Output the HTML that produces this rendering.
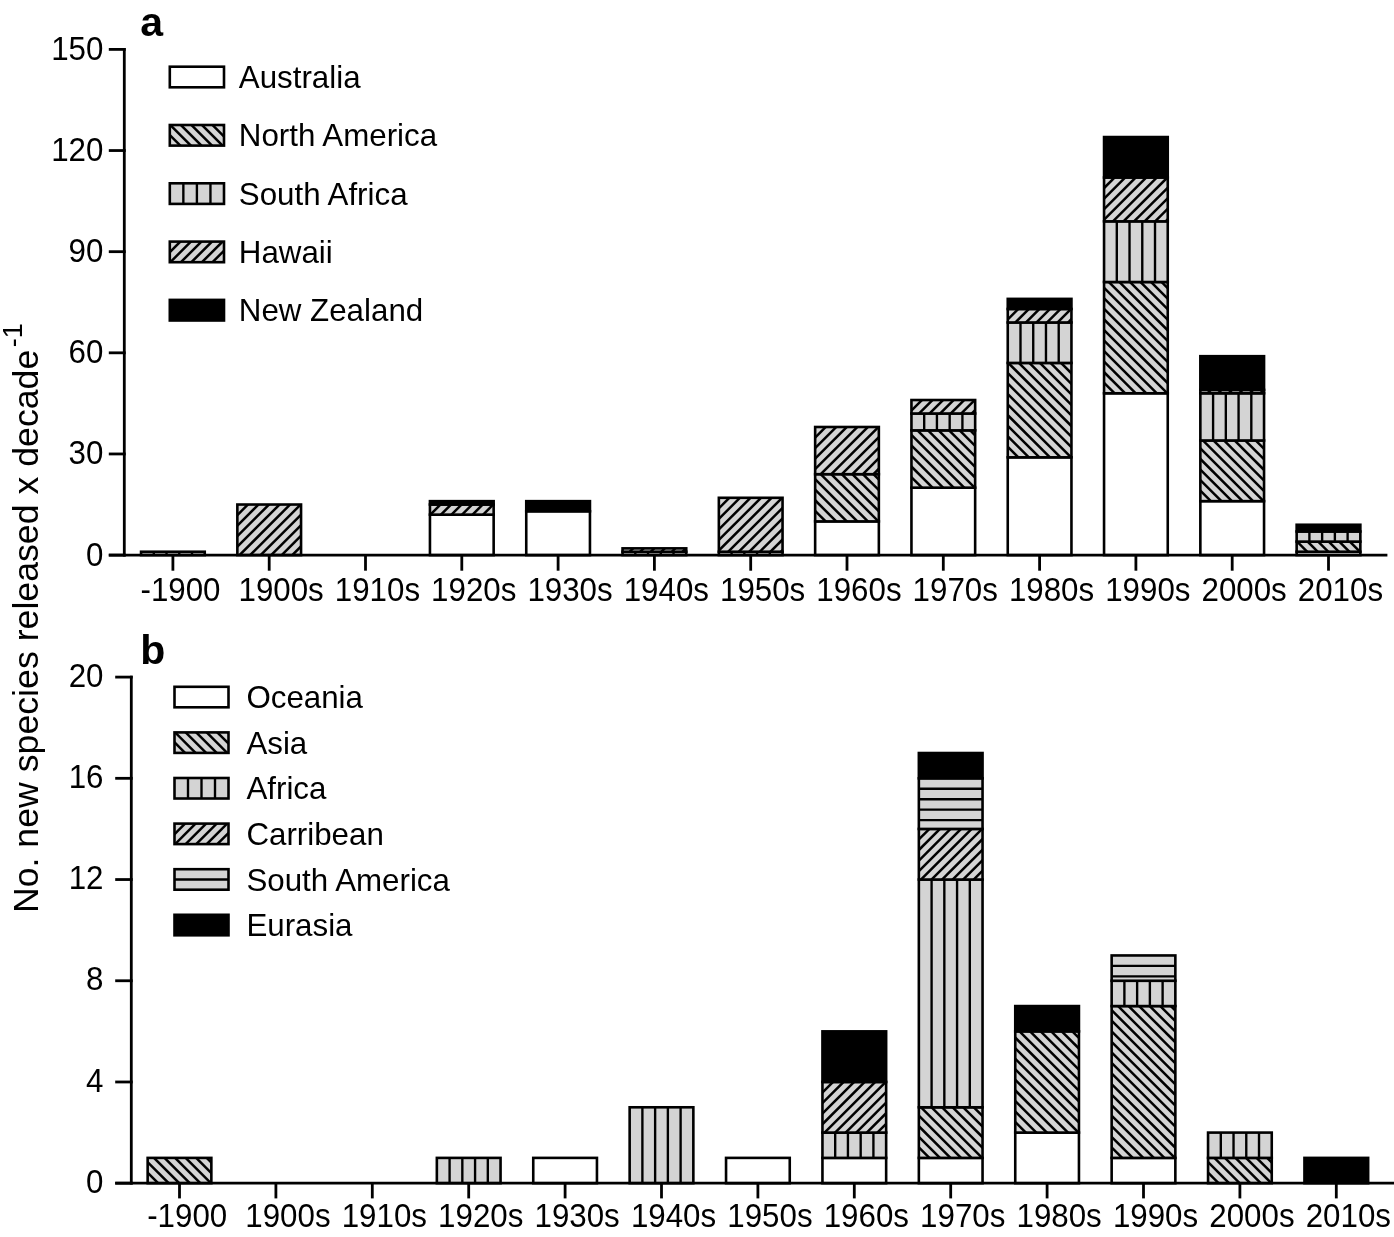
<!DOCTYPE html>
<html><head><meta charset="utf-8"><title>New species released per decade</title>
<style>
html,body{margin:0;padding:0;background:#fff;}
body{width:1394px;height:1237px;overflow:hidden;}
svg{display:block;}
text{font-family:"Liberation Sans",Arial,sans-serif;}
</style></head><body>
<svg width="1394" height="1237" viewBox="0 0 1394 1237" font-family="Liberation Sans, Arial, sans-serif" fill="#000">
<rect x="141.05" y="551.73" width="63.7" height="3.37" fill="#d4d4d4" stroke="none"/>
<line x1="153.79" y1="551.73" x2="153.79" y2="555.1" stroke="#000" stroke-width="2.38" stroke-linecap="butt"/>
<line x1="166.53" y1="551.73" x2="166.53" y2="555.1" stroke="#000" stroke-width="2.38" stroke-linecap="butt"/>
<line x1="179.27" y1="551.73" x2="179.27" y2="555.1" stroke="#000" stroke-width="2.38" stroke-linecap="butt"/>
<line x1="192.01" y1="551.73" x2="192.01" y2="555.1" stroke="#000" stroke-width="2.38" stroke-linecap="butt"/>
<rect x="141.05" y="551.73" width="63.7" height="3.37" fill="none" stroke="#000" stroke-width="2.6"/>
<rect x="237.35" y="504.53" width="63.7" height="50.57" fill="#d4d4d4" stroke="none"/>
<clipPath id="c1"><rect x="237.35" y="504.53" width="63.7" height="50.57"/></clipPath>
<g clip-path="url(#c1)" stroke="#000">
<line x1="234.35" y1="507.53" x2="240.35" y2="501.53" stroke="#000" stroke-width="2.5" stroke-linecap="butt"/>
<line x1="234.35" y1="518.08" x2="250.9" y2="501.53" stroke="#000" stroke-width="2.5" stroke-linecap="butt"/>
<line x1="234.35" y1="528.63" x2="261.45" y2="501.53" stroke="#000" stroke-width="2.5" stroke-linecap="butt"/>
<line x1="234.35" y1="539.18" x2="272" y2="501.53" stroke="#000" stroke-width="2.5" stroke-linecap="butt"/>
<line x1="234.35" y1="549.73" x2="282.55" y2="501.53" stroke="#000" stroke-width="2.5" stroke-linecap="butt"/>
<line x1="236.53" y1="558.1" x2="293.1" y2="501.53" stroke="#000" stroke-width="2.5" stroke-linecap="butt"/>
<line x1="247.08" y1="558.1" x2="303.65" y2="501.53" stroke="#000" stroke-width="2.5" stroke-linecap="butt"/>
<line x1="257.63" y1="558.1" x2="304.05" y2="511.68" stroke="#000" stroke-width="2.5" stroke-linecap="butt"/>
<line x1="268.18" y1="558.1" x2="304.05" y2="522.23" stroke="#000" stroke-width="2.5" stroke-linecap="butt"/>
<line x1="278.73" y1="558.1" x2="304.05" y2="532.78" stroke="#000" stroke-width="2.5" stroke-linecap="butt"/>
<line x1="289.28" y1="558.1" x2="304.05" y2="543.33" stroke="#000" stroke-width="2.5" stroke-linecap="butt"/>
<line x1="299.83" y1="558.1" x2="304.05" y2="553.88" stroke="#000" stroke-width="2.5" stroke-linecap="butt"/>
</g>
<rect x="237.35" y="504.53" width="63.7" height="50.57" fill="none" stroke="#000" stroke-width="2.6"/>
<rect x="429.95" y="514.64" width="63.7" height="40.46" fill="#fff" stroke="none"/>
<rect x="429.95" y="514.64" width="63.7" height="40.46" fill="none" stroke="#000" stroke-width="2.6"/>
<rect x="429.95" y="504.53" width="63.7" height="10.11" fill="#d4d4d4" stroke="none"/>
<clipPath id="c2"><rect x="429.95" y="504.53" width="63.7" height="10.11"/></clipPath>
<g clip-path="url(#c2)" stroke="#000">
<line x1="426.95" y1="507.53" x2="432.95" y2="501.53" stroke="#000" stroke-width="2.5" stroke-linecap="butt"/>
<line x1="427.39" y1="517.64" x2="443.5" y2="501.53" stroke="#000" stroke-width="2.5" stroke-linecap="butt"/>
<line x1="437.94" y1="517.64" x2="454.05" y2="501.53" stroke="#000" stroke-width="2.5" stroke-linecap="butt"/>
<line x1="448.49" y1="517.64" x2="464.6" y2="501.53" stroke="#000" stroke-width="2.5" stroke-linecap="butt"/>
<line x1="459.04" y1="517.64" x2="475.15" y2="501.53" stroke="#000" stroke-width="2.5" stroke-linecap="butt"/>
<line x1="469.59" y1="517.64" x2="485.7" y2="501.53" stroke="#000" stroke-width="2.5" stroke-linecap="butt"/>
<line x1="480.14" y1="517.64" x2="496.25" y2="501.53" stroke="#000" stroke-width="2.5" stroke-linecap="butt"/>
<line x1="490.69" y1="517.64" x2="496.65" y2="511.68" stroke="#000" stroke-width="2.5" stroke-linecap="butt"/>
</g>
<rect x="429.95" y="504.53" width="63.7" height="10.11" fill="none" stroke="#000" stroke-width="2.6"/>
<rect x="429.95" y="501.16" width="63.7" height="3.37" fill="#000" stroke="#000" stroke-width="2.6"/>
<rect x="526.25" y="511.27" width="63.7" height="43.83" fill="#fff" stroke="none"/>
<rect x="526.25" y="511.27" width="63.7" height="43.83" fill="none" stroke="#000" stroke-width="2.6"/>
<rect x="526.25" y="501.16" width="63.7" height="10.11" fill="#000" stroke="#000" stroke-width="2.6"/>
<rect x="622.55" y="551.73" width="63.7" height="3.37" fill="#d4d4d4" stroke="none"/>
<line x1="635.29" y1="551.73" x2="635.29" y2="555.1" stroke="#000" stroke-width="2.38" stroke-linecap="butt"/>
<line x1="648.03" y1="551.73" x2="648.03" y2="555.1" stroke="#000" stroke-width="2.38" stroke-linecap="butt"/>
<line x1="660.77" y1="551.73" x2="660.77" y2="555.1" stroke="#000" stroke-width="2.38" stroke-linecap="butt"/>
<line x1="673.51" y1="551.73" x2="673.51" y2="555.1" stroke="#000" stroke-width="2.38" stroke-linecap="butt"/>
<rect x="622.55" y="551.73" width="63.7" height="3.37" fill="none" stroke="#000" stroke-width="2.6"/>
<rect x="622.55" y="548.36" width="63.7" height="3.37" fill="#d4d4d4" stroke="none"/>
<clipPath id="c3"><rect x="622.55" y="548.36" width="63.7" height="3.37"/></clipPath>
<g clip-path="url(#c3)" stroke="#000">
<line x1="619.55" y1="551.36" x2="625.55" y2="545.36" stroke="#000" stroke-width="2.5" stroke-linecap="butt"/>
<line x1="626.73" y1="554.73" x2="636.1" y2="545.36" stroke="#000" stroke-width="2.5" stroke-linecap="butt"/>
<line x1="637.28" y1="554.73" x2="646.65" y2="545.36" stroke="#000" stroke-width="2.5" stroke-linecap="butt"/>
<line x1="647.83" y1="554.73" x2="657.2" y2="545.36" stroke="#000" stroke-width="2.5" stroke-linecap="butt"/>
<line x1="658.38" y1="554.73" x2="667.75" y2="545.36" stroke="#000" stroke-width="2.5" stroke-linecap="butt"/>
<line x1="668.93" y1="554.73" x2="678.3" y2="545.36" stroke="#000" stroke-width="2.5" stroke-linecap="butt"/>
<line x1="679.48" y1="554.73" x2="688.85" y2="545.36" stroke="#000" stroke-width="2.5" stroke-linecap="butt"/>
</g>
<rect x="622.55" y="548.36" width="63.7" height="3.37" fill="none" stroke="#000" stroke-width="2.6"/>
<rect x="718.85" y="551.73" width="63.7" height="3.37" fill="#d4d4d4" stroke="none"/>
<line x1="731.59" y1="551.73" x2="731.59" y2="555.1" stroke="#000" stroke-width="2.38" stroke-linecap="butt"/>
<line x1="744.33" y1="551.73" x2="744.33" y2="555.1" stroke="#000" stroke-width="2.38" stroke-linecap="butt"/>
<line x1="757.07" y1="551.73" x2="757.07" y2="555.1" stroke="#000" stroke-width="2.38" stroke-linecap="butt"/>
<line x1="769.81" y1="551.73" x2="769.81" y2="555.1" stroke="#000" stroke-width="2.38" stroke-linecap="butt"/>
<rect x="718.85" y="551.73" width="63.7" height="3.37" fill="none" stroke="#000" stroke-width="2.6"/>
<rect x="718.85" y="497.79" width="63.7" height="53.94" fill="#d4d4d4" stroke="none"/>
<clipPath id="c4"><rect x="718.85" y="497.79" width="63.7" height="53.94"/></clipPath>
<g clip-path="url(#c4)" stroke="#000">
<line x1="715.85" y1="500.79" x2="721.85" y2="494.79" stroke="#000" stroke-width="2.5" stroke-linecap="butt"/>
<line x1="715.85" y1="511.34" x2="732.4" y2="494.79" stroke="#000" stroke-width="2.5" stroke-linecap="butt"/>
<line x1="715.85" y1="521.89" x2="742.95" y2="494.79" stroke="#000" stroke-width="2.5" stroke-linecap="butt"/>
<line x1="715.85" y1="532.44" x2="753.5" y2="494.79" stroke="#000" stroke-width="2.5" stroke-linecap="butt"/>
<line x1="715.85" y1="542.99" x2="764.05" y2="494.79" stroke="#000" stroke-width="2.5" stroke-linecap="butt"/>
<line x1="715.85" y1="553.54" x2="774.6" y2="494.79" stroke="#000" stroke-width="2.5" stroke-linecap="butt"/>
<line x1="725.21" y1="554.73" x2="785.15" y2="494.79" stroke="#000" stroke-width="2.5" stroke-linecap="butt"/>
<line x1="735.76" y1="554.73" x2="785.55" y2="504.94" stroke="#000" stroke-width="2.5" stroke-linecap="butt"/>
<line x1="746.31" y1="554.73" x2="785.55" y2="515.49" stroke="#000" stroke-width="2.5" stroke-linecap="butt"/>
<line x1="756.86" y1="554.73" x2="785.55" y2="526.04" stroke="#000" stroke-width="2.5" stroke-linecap="butt"/>
<line x1="767.41" y1="554.73" x2="785.55" y2="536.59" stroke="#000" stroke-width="2.5" stroke-linecap="butt"/>
<line x1="777.96" y1="554.73" x2="785.55" y2="547.14" stroke="#000" stroke-width="2.5" stroke-linecap="butt"/>
</g>
<rect x="718.85" y="497.79" width="63.7" height="53.94" fill="none" stroke="#000" stroke-width="2.6"/>
<rect x="815.15" y="521.39" width="63.7" height="33.71" fill="#fff" stroke="none"/>
<rect x="815.15" y="521.39" width="63.7" height="33.71" fill="none" stroke="#000" stroke-width="2.6"/>
<rect x="815.15" y="474.19" width="63.7" height="47.2" fill="#d4d4d4" stroke="none"/>
<clipPath id="c5"><rect x="815.15" y="474.19" width="63.7" height="47.2"/></clipPath>
<g clip-path="url(#c5)" stroke="#000">
<line x1="812.15" y1="518.39" x2="818.15" y2="524.39" stroke="#000" stroke-width="2.5" stroke-linecap="butt"/>
<line x1="812.15" y1="507.84" x2="828.7" y2="524.39" stroke="#000" stroke-width="2.5" stroke-linecap="butt"/>
<line x1="812.15" y1="497.29" x2="839.25" y2="524.39" stroke="#000" stroke-width="2.5" stroke-linecap="butt"/>
<line x1="812.15" y1="486.74" x2="849.8" y2="524.39" stroke="#000" stroke-width="2.5" stroke-linecap="butt"/>
<line x1="812.15" y1="476.19" x2="860.35" y2="524.39" stroke="#000" stroke-width="2.5" stroke-linecap="butt"/>
<line x1="817.7" y1="471.19" x2="870.9" y2="524.39" stroke="#000" stroke-width="2.5" stroke-linecap="butt"/>
<line x1="828.25" y1="471.19" x2="881.45" y2="524.39" stroke="#000" stroke-width="2.5" stroke-linecap="butt"/>
<line x1="838.8" y1="471.19" x2="881.85" y2="514.24" stroke="#000" stroke-width="2.5" stroke-linecap="butt"/>
<line x1="849.35" y1="471.19" x2="881.85" y2="503.69" stroke="#000" stroke-width="2.5" stroke-linecap="butt"/>
<line x1="859.9" y1="471.19" x2="881.85" y2="493.14" stroke="#000" stroke-width="2.5" stroke-linecap="butt"/>
<line x1="870.45" y1="471.19" x2="881.85" y2="482.59" stroke="#000" stroke-width="2.5" stroke-linecap="butt"/>
<line x1="881" y1="471.19" x2="881.85" y2="472.04" stroke="#000" stroke-width="2.5" stroke-linecap="butt"/>
</g>
<rect x="815.15" y="474.19" width="63.7" height="47.2" fill="none" stroke="#000" stroke-width="2.6"/>
<rect x="815.15" y="426.99" width="63.7" height="47.2" fill="#d4d4d4" stroke="none"/>
<clipPath id="c6"><rect x="815.15" y="426.99" width="63.7" height="47.2"/></clipPath>
<g clip-path="url(#c6)" stroke="#000">
<line x1="812.15" y1="429.99" x2="818.15" y2="423.99" stroke="#000" stroke-width="2.5" stroke-linecap="butt"/>
<line x1="812.15" y1="440.54" x2="828.7" y2="423.99" stroke="#000" stroke-width="2.5" stroke-linecap="butt"/>
<line x1="812.15" y1="451.09" x2="839.25" y2="423.99" stroke="#000" stroke-width="2.5" stroke-linecap="butt"/>
<line x1="812.15" y1="461.64" x2="849.8" y2="423.99" stroke="#000" stroke-width="2.5" stroke-linecap="butt"/>
<line x1="812.15" y1="472.19" x2="860.35" y2="423.99" stroke="#000" stroke-width="2.5" stroke-linecap="butt"/>
<line x1="817.7" y1="477.19" x2="870.9" y2="423.99" stroke="#000" stroke-width="2.5" stroke-linecap="butt"/>
<line x1="828.25" y1="477.19" x2="881.45" y2="423.99" stroke="#000" stroke-width="2.5" stroke-linecap="butt"/>
<line x1="838.8" y1="477.19" x2="881.85" y2="434.14" stroke="#000" stroke-width="2.5" stroke-linecap="butt"/>
<line x1="849.35" y1="477.19" x2="881.85" y2="444.69" stroke="#000" stroke-width="2.5" stroke-linecap="butt"/>
<line x1="859.9" y1="477.19" x2="881.85" y2="455.24" stroke="#000" stroke-width="2.5" stroke-linecap="butt"/>
<line x1="870.45" y1="477.19" x2="881.85" y2="465.79" stroke="#000" stroke-width="2.5" stroke-linecap="butt"/>
<line x1="881" y1="477.19" x2="881.85" y2="476.34" stroke="#000" stroke-width="2.5" stroke-linecap="butt"/>
</g>
<rect x="815.15" y="426.99" width="63.7" height="47.2" fill="none" stroke="#000" stroke-width="2.6"/>
<rect x="911.45" y="487.67" width="63.7" height="67.43" fill="#fff" stroke="none"/>
<rect x="911.45" y="487.67" width="63.7" height="67.43" fill="none" stroke="#000" stroke-width="2.6"/>
<rect x="911.45" y="430.36" width="63.7" height="57.31" fill="#d4d4d4" stroke="none"/>
<clipPath id="c7"><rect x="911.45" y="430.36" width="63.7" height="57.31"/></clipPath>
<g clip-path="url(#c7)" stroke="#000">
<line x1="908.45" y1="484.67" x2="914.45" y2="490.67" stroke="#000" stroke-width="2.5" stroke-linecap="butt"/>
<line x1="908.45" y1="474.12" x2="925" y2="490.67" stroke="#000" stroke-width="2.5" stroke-linecap="butt"/>
<line x1="908.45" y1="463.57" x2="935.55" y2="490.67" stroke="#000" stroke-width="2.5" stroke-linecap="butt"/>
<line x1="908.45" y1="453.02" x2="946.1" y2="490.67" stroke="#000" stroke-width="2.5" stroke-linecap="butt"/>
<line x1="908.45" y1="442.47" x2="956.65" y2="490.67" stroke="#000" stroke-width="2.5" stroke-linecap="butt"/>
<line x1="908.45" y1="431.92" x2="967.2" y2="490.67" stroke="#000" stroke-width="2.5" stroke-linecap="butt"/>
<line x1="914.44" y1="427.36" x2="977.75" y2="490.67" stroke="#000" stroke-width="2.5" stroke-linecap="butt"/>
<line x1="924.99" y1="427.36" x2="978.15" y2="480.52" stroke="#000" stroke-width="2.5" stroke-linecap="butt"/>
<line x1="935.54" y1="427.36" x2="978.15" y2="469.97" stroke="#000" stroke-width="2.5" stroke-linecap="butt"/>
<line x1="946.09" y1="427.36" x2="978.15" y2="459.42" stroke="#000" stroke-width="2.5" stroke-linecap="butt"/>
<line x1="956.64" y1="427.36" x2="978.15" y2="448.87" stroke="#000" stroke-width="2.5" stroke-linecap="butt"/>
<line x1="967.19" y1="427.36" x2="978.15" y2="438.32" stroke="#000" stroke-width="2.5" stroke-linecap="butt"/>
<line x1="977.74" y1="427.36" x2="978.15" y2="427.77" stroke="#000" stroke-width="2.5" stroke-linecap="butt"/>
</g>
<rect x="911.45" y="430.36" width="63.7" height="57.31" fill="none" stroke="#000" stroke-width="2.6"/>
<rect x="911.45" y="413.5" width="63.7" height="16.86" fill="#d4d4d4" stroke="none"/>
<line x1="924.19" y1="413.5" x2="924.19" y2="430.36" stroke="#000" stroke-width="2.38" stroke-linecap="butt"/>
<line x1="936.93" y1="413.5" x2="936.93" y2="430.36" stroke="#000" stroke-width="2.38" stroke-linecap="butt"/>
<line x1="949.67" y1="413.5" x2="949.67" y2="430.36" stroke="#000" stroke-width="2.38" stroke-linecap="butt"/>
<line x1="962.41" y1="413.5" x2="962.41" y2="430.36" stroke="#000" stroke-width="2.38" stroke-linecap="butt"/>
<rect x="911.45" y="413.5" width="63.7" height="16.86" fill="none" stroke="#000" stroke-width="2.6"/>
<rect x="911.45" y="400.02" width="63.7" height="13.49" fill="#d4d4d4" stroke="none"/>
<clipPath id="c8"><rect x="911.45" y="400.02" width="63.7" height="13.49"/></clipPath>
<g clip-path="url(#c8)" stroke="#000">
<line x1="908.45" y1="403.02" x2="914.45" y2="397.02" stroke="#000" stroke-width="2.5" stroke-linecap="butt"/>
<line x1="908.45" y1="413.57" x2="925" y2="397.02" stroke="#000" stroke-width="2.5" stroke-linecap="butt"/>
<line x1="916.06" y1="416.5" x2="935.55" y2="397.02" stroke="#000" stroke-width="2.5" stroke-linecap="butt"/>
<line x1="926.61" y1="416.5" x2="946.1" y2="397.02" stroke="#000" stroke-width="2.5" stroke-linecap="butt"/>
<line x1="937.16" y1="416.5" x2="956.65" y2="397.02" stroke="#000" stroke-width="2.5" stroke-linecap="butt"/>
<line x1="947.71" y1="416.5" x2="967.2" y2="397.02" stroke="#000" stroke-width="2.5" stroke-linecap="butt"/>
<line x1="958.26" y1="416.5" x2="977.75" y2="397.02" stroke="#000" stroke-width="2.5" stroke-linecap="butt"/>
<line x1="968.81" y1="416.5" x2="978.15" y2="407.17" stroke="#000" stroke-width="2.5" stroke-linecap="butt"/>
</g>
<rect x="911.45" y="400.02" width="63.7" height="13.49" fill="none" stroke="#000" stroke-width="2.6"/>
<rect x="1007.75" y="457.33" width="63.7" height="97.77" fill="#fff" stroke="none"/>
<rect x="1007.75" y="457.33" width="63.7" height="97.77" fill="none" stroke="#000" stroke-width="2.6"/>
<rect x="1007.75" y="362.93" width="63.7" height="94.4" fill="#d4d4d4" stroke="none"/>
<clipPath id="c9"><rect x="1007.75" y="362.93" width="63.7" height="94.4"/></clipPath>
<g clip-path="url(#c9)" stroke="#000">
<line x1="1004.75" y1="454.33" x2="1010.75" y2="460.33" stroke="#000" stroke-width="2.5" stroke-linecap="butt"/>
<line x1="1004.75" y1="443.78" x2="1021.3" y2="460.33" stroke="#000" stroke-width="2.5" stroke-linecap="butt"/>
<line x1="1004.75" y1="433.23" x2="1031.85" y2="460.33" stroke="#000" stroke-width="2.5" stroke-linecap="butt"/>
<line x1="1004.75" y1="422.68" x2="1042.4" y2="460.33" stroke="#000" stroke-width="2.5" stroke-linecap="butt"/>
<line x1="1004.75" y1="412.13" x2="1052.95" y2="460.33" stroke="#000" stroke-width="2.5" stroke-linecap="butt"/>
<line x1="1004.75" y1="401.58" x2="1063.5" y2="460.33" stroke="#000" stroke-width="2.5" stroke-linecap="butt"/>
<line x1="1004.75" y1="391.03" x2="1074.05" y2="460.33" stroke="#000" stroke-width="2.5" stroke-linecap="butt"/>
<line x1="1004.75" y1="380.48" x2="1074.45" y2="450.18" stroke="#000" stroke-width="2.5" stroke-linecap="butt"/>
<line x1="1004.75" y1="369.93" x2="1074.45" y2="439.63" stroke="#000" stroke-width="2.5" stroke-linecap="butt"/>
<line x1="1005.3" y1="359.93" x2="1074.45" y2="429.08" stroke="#000" stroke-width="2.5" stroke-linecap="butt"/>
<line x1="1015.85" y1="359.93" x2="1074.45" y2="418.53" stroke="#000" stroke-width="2.5" stroke-linecap="butt"/>
<line x1="1026.4" y1="359.93" x2="1074.45" y2="407.98" stroke="#000" stroke-width="2.5" stroke-linecap="butt"/>
<line x1="1036.95" y1="359.93" x2="1074.45" y2="397.43" stroke="#000" stroke-width="2.5" stroke-linecap="butt"/>
<line x1="1047.5" y1="359.93" x2="1074.45" y2="386.88" stroke="#000" stroke-width="2.5" stroke-linecap="butt"/>
<line x1="1058.05" y1="359.93" x2="1074.45" y2="376.33" stroke="#000" stroke-width="2.5" stroke-linecap="butt"/>
<line x1="1068.6" y1="359.93" x2="1074.45" y2="365.78" stroke="#000" stroke-width="2.5" stroke-linecap="butt"/>
</g>
<rect x="1007.75" y="362.93" width="63.7" height="94.4" fill="none" stroke="#000" stroke-width="2.6"/>
<rect x="1007.75" y="322.48" width="63.7" height="40.46" fill="#d4d4d4" stroke="none"/>
<line x1="1020.49" y1="322.48" x2="1020.49" y2="362.93" stroke="#000" stroke-width="2.38" stroke-linecap="butt"/>
<line x1="1033.23" y1="322.48" x2="1033.23" y2="362.93" stroke="#000" stroke-width="2.38" stroke-linecap="butt"/>
<line x1="1045.97" y1="322.48" x2="1045.97" y2="362.93" stroke="#000" stroke-width="2.38" stroke-linecap="butt"/>
<line x1="1058.71" y1="322.48" x2="1058.71" y2="362.93" stroke="#000" stroke-width="2.38" stroke-linecap="butt"/>
<rect x="1007.75" y="322.48" width="63.7" height="40.46" fill="none" stroke="#000" stroke-width="2.6"/>
<rect x="1007.75" y="308.99" width="63.7" height="13.49" fill="#d4d4d4" stroke="none"/>
<clipPath id="c10"><rect x="1007.75" y="308.99" width="63.7" height="13.49"/></clipPath>
<g clip-path="url(#c10)" stroke="#000">
<line x1="1004.75" y1="311.99" x2="1010.75" y2="305.99" stroke="#000" stroke-width="2.5" stroke-linecap="butt"/>
<line x1="1004.75" y1="322.54" x2="1021.3" y2="305.99" stroke="#000" stroke-width="2.5" stroke-linecap="butt"/>
<line x1="1012.36" y1="325.48" x2="1031.85" y2="305.99" stroke="#000" stroke-width="2.5" stroke-linecap="butt"/>
<line x1="1022.91" y1="325.48" x2="1042.4" y2="305.99" stroke="#000" stroke-width="2.5" stroke-linecap="butt"/>
<line x1="1033.46" y1="325.48" x2="1052.95" y2="305.99" stroke="#000" stroke-width="2.5" stroke-linecap="butt"/>
<line x1="1044.01" y1="325.48" x2="1063.5" y2="305.99" stroke="#000" stroke-width="2.5" stroke-linecap="butt"/>
<line x1="1054.56" y1="325.48" x2="1074.05" y2="305.99" stroke="#000" stroke-width="2.5" stroke-linecap="butt"/>
<line x1="1065.11" y1="325.48" x2="1074.45" y2="316.14" stroke="#000" stroke-width="2.5" stroke-linecap="butt"/>
</g>
<rect x="1007.75" y="308.99" width="63.7" height="13.49" fill="none" stroke="#000" stroke-width="2.6"/>
<rect x="1007.75" y="298.88" width="63.7" height="10.11" fill="#000" stroke="#000" stroke-width="2.6"/>
<rect x="1104.05" y="393.28" width="63.7" height="161.82" fill="#fff" stroke="none"/>
<rect x="1104.05" y="393.28" width="63.7" height="161.82" fill="none" stroke="#000" stroke-width="2.6"/>
<rect x="1104.05" y="282.02" width="63.7" height="111.25" fill="#d4d4d4" stroke="none"/>
<clipPath id="c11"><rect x="1104.05" y="282.02" width="63.7" height="111.25"/></clipPath>
<g clip-path="url(#c11)" stroke="#000">
<line x1="1101.05" y1="390.28" x2="1107.05" y2="396.28" stroke="#000" stroke-width="2.5" stroke-linecap="butt"/>
<line x1="1101.05" y1="379.73" x2="1117.6" y2="396.28" stroke="#000" stroke-width="2.5" stroke-linecap="butt"/>
<line x1="1101.05" y1="369.18" x2="1128.15" y2="396.28" stroke="#000" stroke-width="2.5" stroke-linecap="butt"/>
<line x1="1101.05" y1="358.63" x2="1138.7" y2="396.28" stroke="#000" stroke-width="2.5" stroke-linecap="butt"/>
<line x1="1101.05" y1="348.08" x2="1149.25" y2="396.28" stroke="#000" stroke-width="2.5" stroke-linecap="butt"/>
<line x1="1101.05" y1="337.53" x2="1159.8" y2="396.28" stroke="#000" stroke-width="2.5" stroke-linecap="butt"/>
<line x1="1101.05" y1="326.98" x2="1170.35" y2="396.28" stroke="#000" stroke-width="2.5" stroke-linecap="butt"/>
<line x1="1101.05" y1="316.43" x2="1170.75" y2="386.13" stroke="#000" stroke-width="2.5" stroke-linecap="butt"/>
<line x1="1101.05" y1="305.88" x2="1170.75" y2="375.58" stroke="#000" stroke-width="2.5" stroke-linecap="butt"/>
<line x1="1101.05" y1="295.33" x2="1170.75" y2="365.03" stroke="#000" stroke-width="2.5" stroke-linecap="butt"/>
<line x1="1101.05" y1="284.78" x2="1170.75" y2="354.48" stroke="#000" stroke-width="2.5" stroke-linecap="butt"/>
<line x1="1105.85" y1="279.02" x2="1170.75" y2="343.93" stroke="#000" stroke-width="2.5" stroke-linecap="butt"/>
<line x1="1116.4" y1="279.02" x2="1170.75" y2="333.38" stroke="#000" stroke-width="2.5" stroke-linecap="butt"/>
<line x1="1126.95" y1="279.02" x2="1170.75" y2="322.83" stroke="#000" stroke-width="2.5" stroke-linecap="butt"/>
<line x1="1137.5" y1="279.02" x2="1170.75" y2="312.28" stroke="#000" stroke-width="2.5" stroke-linecap="butt"/>
<line x1="1148.05" y1="279.02" x2="1170.75" y2="301.73" stroke="#000" stroke-width="2.5" stroke-linecap="butt"/>
<line x1="1158.6" y1="279.02" x2="1170.75" y2="291.18" stroke="#000" stroke-width="2.5" stroke-linecap="butt"/>
<line x1="1169.15" y1="279.02" x2="1170.75" y2="280.63" stroke="#000" stroke-width="2.5" stroke-linecap="butt"/>
</g>
<rect x="1104.05" y="282.02" width="63.7" height="111.25" fill="none" stroke="#000" stroke-width="2.6"/>
<rect x="1104.05" y="221.34" width="63.7" height="60.68" fill="#d4d4d4" stroke="none"/>
<line x1="1116.79" y1="221.34" x2="1116.79" y2="282.02" stroke="#000" stroke-width="2.38" stroke-linecap="butt"/>
<line x1="1129.53" y1="221.34" x2="1129.53" y2="282.02" stroke="#000" stroke-width="2.38" stroke-linecap="butt"/>
<line x1="1142.27" y1="221.34" x2="1142.27" y2="282.02" stroke="#000" stroke-width="2.38" stroke-linecap="butt"/>
<line x1="1155.01" y1="221.34" x2="1155.01" y2="282.02" stroke="#000" stroke-width="2.38" stroke-linecap="butt"/>
<rect x="1104.05" y="221.34" width="63.7" height="60.68" fill="none" stroke="#000" stroke-width="2.6"/>
<rect x="1104.05" y="177.51" width="63.7" height="43.83" fill="#d4d4d4" stroke="none"/>
<clipPath id="c12"><rect x="1104.05" y="177.51" width="63.7" height="43.83"/></clipPath>
<g clip-path="url(#c12)" stroke="#000">
<line x1="1101.05" y1="180.51" x2="1107.05" y2="174.51" stroke="#000" stroke-width="2.5" stroke-linecap="butt"/>
<line x1="1101.05" y1="191.06" x2="1117.6" y2="174.51" stroke="#000" stroke-width="2.5" stroke-linecap="butt"/>
<line x1="1101.05" y1="201.61" x2="1128.15" y2="174.51" stroke="#000" stroke-width="2.5" stroke-linecap="butt"/>
<line x1="1101.05" y1="212.16" x2="1138.7" y2="174.51" stroke="#000" stroke-width="2.5" stroke-linecap="butt"/>
<line x1="1101.05" y1="222.71" x2="1149.25" y2="174.51" stroke="#000" stroke-width="2.5" stroke-linecap="butt"/>
<line x1="1109.97" y1="224.34" x2="1159.8" y2="174.51" stroke="#000" stroke-width="2.5" stroke-linecap="butt"/>
<line x1="1120.52" y1="224.34" x2="1170.35" y2="174.51" stroke="#000" stroke-width="2.5" stroke-linecap="butt"/>
<line x1="1131.07" y1="224.34" x2="1170.75" y2="184.66" stroke="#000" stroke-width="2.5" stroke-linecap="butt"/>
<line x1="1141.62" y1="224.34" x2="1170.75" y2="195.21" stroke="#000" stroke-width="2.5" stroke-linecap="butt"/>
<line x1="1152.17" y1="224.34" x2="1170.75" y2="205.76" stroke="#000" stroke-width="2.5" stroke-linecap="butt"/>
<line x1="1162.72" y1="224.34" x2="1170.75" y2="216.31" stroke="#000" stroke-width="2.5" stroke-linecap="butt"/>
</g>
<rect x="1104.05" y="177.51" width="63.7" height="43.83" fill="none" stroke="#000" stroke-width="2.6"/>
<rect x="1104.05" y="137.05" width="63.7" height="40.46" fill="#000" stroke="#000" stroke-width="2.6"/>
<rect x="1200.35" y="501.16" width="63.7" height="53.94" fill="#fff" stroke="none"/>
<rect x="1200.35" y="501.16" width="63.7" height="53.94" fill="none" stroke="#000" stroke-width="2.6"/>
<rect x="1200.35" y="440.47" width="63.7" height="60.68" fill="#d4d4d4" stroke="none"/>
<clipPath id="c13"><rect x="1200.35" y="440.47" width="63.7" height="60.68"/></clipPath>
<g clip-path="url(#c13)" stroke="#000">
<line x1="1197.35" y1="498.16" x2="1203.35" y2="504.16" stroke="#000" stroke-width="2.5" stroke-linecap="butt"/>
<line x1="1197.35" y1="487.61" x2="1213.9" y2="504.16" stroke="#000" stroke-width="2.5" stroke-linecap="butt"/>
<line x1="1197.35" y1="477.06" x2="1224.45" y2="504.16" stroke="#000" stroke-width="2.5" stroke-linecap="butt"/>
<line x1="1197.35" y1="466.51" x2="1235" y2="504.16" stroke="#000" stroke-width="2.5" stroke-linecap="butt"/>
<line x1="1197.35" y1="455.96" x2="1245.55" y2="504.16" stroke="#000" stroke-width="2.5" stroke-linecap="butt"/>
<line x1="1197.35" y1="445.41" x2="1256.1" y2="504.16" stroke="#000" stroke-width="2.5" stroke-linecap="butt"/>
<line x1="1199.97" y1="437.47" x2="1266.65" y2="504.16" stroke="#000" stroke-width="2.5" stroke-linecap="butt"/>
<line x1="1210.52" y1="437.47" x2="1267.05" y2="494.01" stroke="#000" stroke-width="2.5" stroke-linecap="butt"/>
<line x1="1221.07" y1="437.47" x2="1267.05" y2="483.46" stroke="#000" stroke-width="2.5" stroke-linecap="butt"/>
<line x1="1231.62" y1="437.47" x2="1267.05" y2="472.91" stroke="#000" stroke-width="2.5" stroke-linecap="butt"/>
<line x1="1242.17" y1="437.47" x2="1267.05" y2="462.36" stroke="#000" stroke-width="2.5" stroke-linecap="butt"/>
<line x1="1252.72" y1="437.47" x2="1267.05" y2="451.81" stroke="#000" stroke-width="2.5" stroke-linecap="butt"/>
<line x1="1263.27" y1="437.47" x2="1267.05" y2="441.26" stroke="#000" stroke-width="2.5" stroke-linecap="butt"/>
</g>
<rect x="1200.35" y="440.47" width="63.7" height="60.68" fill="none" stroke="#000" stroke-width="2.6"/>
<rect x="1200.35" y="393.28" width="63.7" height="47.2" fill="#d4d4d4" stroke="none"/>
<line x1="1213.09" y1="393.28" x2="1213.09" y2="440.47" stroke="#000" stroke-width="2.38" stroke-linecap="butt"/>
<line x1="1225.83" y1="393.28" x2="1225.83" y2="440.47" stroke="#000" stroke-width="2.38" stroke-linecap="butt"/>
<line x1="1238.57" y1="393.28" x2="1238.57" y2="440.47" stroke="#000" stroke-width="2.38" stroke-linecap="butt"/>
<line x1="1251.31" y1="393.28" x2="1251.31" y2="440.47" stroke="#000" stroke-width="2.38" stroke-linecap="butt"/>
<rect x="1200.35" y="393.28" width="63.7" height="47.2" fill="none" stroke="#000" stroke-width="2.6"/>
<rect x="1200.35" y="389.9" width="63.7" height="3.37" fill="#d4d4d4" stroke="none"/>
<clipPath id="c14"><rect x="1200.35" y="389.9" width="63.7" height="3.37"/></clipPath>
<g clip-path="url(#c14)" stroke="#000">
<line x1="1197.35" y1="392.9" x2="1203.35" y2="386.9" stroke="#000" stroke-width="2.5" stroke-linecap="butt"/>
<line x1="1204.53" y1="396.28" x2="1213.9" y2="386.9" stroke="#000" stroke-width="2.5" stroke-linecap="butt"/>
<line x1="1215.08" y1="396.28" x2="1224.45" y2="386.9" stroke="#000" stroke-width="2.5" stroke-linecap="butt"/>
<line x1="1225.63" y1="396.28" x2="1235" y2="386.9" stroke="#000" stroke-width="2.5" stroke-linecap="butt"/>
<line x1="1236.18" y1="396.28" x2="1245.55" y2="386.9" stroke="#000" stroke-width="2.5" stroke-linecap="butt"/>
<line x1="1246.73" y1="396.28" x2="1256.1" y2="386.9" stroke="#000" stroke-width="2.5" stroke-linecap="butt"/>
<line x1="1257.28" y1="396.28" x2="1266.65" y2="386.9" stroke="#000" stroke-width="2.5" stroke-linecap="butt"/>
</g>
<rect x="1200.35" y="389.9" width="63.7" height="3.37" fill="none" stroke="#000" stroke-width="2.6"/>
<rect x="1200.35" y="356.19" width="63.7" height="33.71" fill="#000" stroke="#000" stroke-width="2.6"/>
<rect x="1296.65" y="551.73" width="63.7" height="3.37" fill="#fff" stroke="none"/>
<rect x="1296.65" y="551.73" width="63.7" height="3.37" fill="none" stroke="#000" stroke-width="2.6"/>
<rect x="1296.65" y="541.61" width="63.7" height="10.11" fill="#d4d4d4" stroke="none"/>
<clipPath id="c15"><rect x="1296.65" y="541.61" width="63.7" height="10.11"/></clipPath>
<g clip-path="url(#c15)" stroke="#000">
<line x1="1293.65" y1="548.73" x2="1299.65" y2="554.73" stroke="#000" stroke-width="2.5" stroke-linecap="butt"/>
<line x1="1294.09" y1="538.61" x2="1310.2" y2="554.73" stroke="#000" stroke-width="2.5" stroke-linecap="butt"/>
<line x1="1304.64" y1="538.61" x2="1320.75" y2="554.73" stroke="#000" stroke-width="2.5" stroke-linecap="butt"/>
<line x1="1315.19" y1="538.61" x2="1331.3" y2="554.73" stroke="#000" stroke-width="2.5" stroke-linecap="butt"/>
<line x1="1325.74" y1="538.61" x2="1341.85" y2="554.73" stroke="#000" stroke-width="2.5" stroke-linecap="butt"/>
<line x1="1336.29" y1="538.61" x2="1352.4" y2="554.73" stroke="#000" stroke-width="2.5" stroke-linecap="butt"/>
<line x1="1346.84" y1="538.61" x2="1362.95" y2="554.73" stroke="#000" stroke-width="2.5" stroke-linecap="butt"/>
<line x1="1357.39" y1="538.61" x2="1363.35" y2="544.58" stroke="#000" stroke-width="2.5" stroke-linecap="butt"/>
</g>
<rect x="1296.65" y="541.61" width="63.7" height="10.11" fill="none" stroke="#000" stroke-width="2.6"/>
<rect x="1296.65" y="531.5" width="63.7" height="10.11" fill="#d4d4d4" stroke="none"/>
<line x1="1309.39" y1="531.5" x2="1309.39" y2="541.61" stroke="#000" stroke-width="2.38" stroke-linecap="butt"/>
<line x1="1322.13" y1="531.5" x2="1322.13" y2="541.61" stroke="#000" stroke-width="2.38" stroke-linecap="butt"/>
<line x1="1334.87" y1="531.5" x2="1334.87" y2="541.61" stroke="#000" stroke-width="2.38" stroke-linecap="butt"/>
<line x1="1347.61" y1="531.5" x2="1347.61" y2="541.61" stroke="#000" stroke-width="2.38" stroke-linecap="butt"/>
<rect x="1296.65" y="531.5" width="63.7" height="10.11" fill="none" stroke="#000" stroke-width="2.6"/>
<rect x="1296.65" y="524.76" width="63.7" height="6.74" fill="#000" stroke="#000" stroke-width="2.6"/>
<g stroke="#000">
<line x1="124.3" y1="48" x2="124.3" y2="556.5" stroke="#000" stroke-width="2.8" stroke-linecap="butt"/>
<line x1="108.8" y1="555.1" x2="1387.4" y2="555.1" stroke="#000" stroke-width="2.8" stroke-linecap="butt"/>
<line x1="108.8" y1="555.1" x2="125.7" y2="555.1" stroke="#000" stroke-width="2.8" stroke-linecap="butt"/>
<line x1="108.8" y1="453.96" x2="125.7" y2="453.96" stroke="#000" stroke-width="2.8" stroke-linecap="butt"/>
<line x1="108.8" y1="352.82" x2="125.7" y2="352.82" stroke="#000" stroke-width="2.8" stroke-linecap="butt"/>
<line x1="108.8" y1="251.68" x2="125.7" y2="251.68" stroke="#000" stroke-width="2.8" stroke-linecap="butt"/>
<line x1="108.8" y1="150.54" x2="125.7" y2="150.54" stroke="#000" stroke-width="2.8" stroke-linecap="butt"/>
<line x1="108.8" y1="49.4" x2="125.7" y2="49.4" stroke="#000" stroke-width="2.8" stroke-linecap="butt"/>
<line x1="172.9" y1="555.1" x2="172.9" y2="570.7" stroke="#000" stroke-width="2.8" stroke-linecap="butt"/>
<line x1="269.2" y1="555.1" x2="269.2" y2="570.7" stroke="#000" stroke-width="2.8" stroke-linecap="butt"/>
<line x1="365.5" y1="555.1" x2="365.5" y2="570.7" stroke="#000" stroke-width="2.8" stroke-linecap="butt"/>
<line x1="461.8" y1="555.1" x2="461.8" y2="570.7" stroke="#000" stroke-width="2.8" stroke-linecap="butt"/>
<line x1="558.1" y1="555.1" x2="558.1" y2="570.7" stroke="#000" stroke-width="2.8" stroke-linecap="butt"/>
<line x1="654.4" y1="555.1" x2="654.4" y2="570.7" stroke="#000" stroke-width="2.8" stroke-linecap="butt"/>
<line x1="750.7" y1="555.1" x2="750.7" y2="570.7" stroke="#000" stroke-width="2.8" stroke-linecap="butt"/>
<line x1="847" y1="555.1" x2="847" y2="570.7" stroke="#000" stroke-width="2.8" stroke-linecap="butt"/>
<line x1="943.3" y1="555.1" x2="943.3" y2="570.7" stroke="#000" stroke-width="2.8" stroke-linecap="butt"/>
<line x1="1039.6" y1="555.1" x2="1039.6" y2="570.7" stroke="#000" stroke-width="2.8" stroke-linecap="butt"/>
<line x1="1135.9" y1="555.1" x2="1135.9" y2="570.7" stroke="#000" stroke-width="2.8" stroke-linecap="butt"/>
<line x1="1232.2" y1="555.1" x2="1232.2" y2="570.7" stroke="#000" stroke-width="2.8" stroke-linecap="butt"/>
<line x1="1328.5" y1="555.1" x2="1328.5" y2="570.7" stroke="#000" stroke-width="2.8" stroke-linecap="butt"/>
</g>
<text transform="translate(103.4 565.5) scale(1 1.04)" text-anchor="end" font-size="31.3">0</text>
<text transform="translate(103.4 464.36) scale(1 1.04)" text-anchor="end" font-size="31.3">30</text>
<text transform="translate(103.4 363.22) scale(1 1.04)" text-anchor="end" font-size="31.3">60</text>
<text transform="translate(103.4 262.08) scale(1 1.04)" text-anchor="end" font-size="31.3">90</text>
<text transform="translate(103.4 160.94) scale(1 1.04)" text-anchor="end" font-size="31.3">120</text>
<text transform="translate(103.4 59.8) scale(1 1.04)" text-anchor="end" font-size="31.3">150</text>
<text transform="translate(180.5 600.5) scale(1 1.04)" text-anchor="middle" font-size="31.3">-1900</text>
<text transform="translate(281.1 600.5) scale(1 1.04)" text-anchor="middle" font-size="31.3">1900s</text>
<text transform="translate(377.4 600.5) scale(1 1.04)" text-anchor="middle" font-size="31.3">1910s</text>
<text transform="translate(473.7 600.5) scale(1 1.04)" text-anchor="middle" font-size="31.3">1920s</text>
<text transform="translate(570 600.5) scale(1 1.04)" text-anchor="middle" font-size="31.3">1930s</text>
<text transform="translate(666.3 600.5) scale(1 1.04)" text-anchor="middle" font-size="31.3">1940s</text>
<text transform="translate(762.6 600.5) scale(1 1.04)" text-anchor="middle" font-size="31.3">1950s</text>
<text transform="translate(858.9 600.5) scale(1 1.04)" text-anchor="middle" font-size="31.3">1960s</text>
<text transform="translate(955.2 600.5) scale(1 1.04)" text-anchor="middle" font-size="31.3">1970s</text>
<text transform="translate(1051.5 600.5) scale(1 1.04)" text-anchor="middle" font-size="31.3">1980s</text>
<text transform="translate(1147.8 600.5) scale(1 1.04)" text-anchor="middle" font-size="31.3">1990s</text>
<text transform="translate(1244.1 600.5) scale(1 1.04)" text-anchor="middle" font-size="31.3">2000s</text>
<text transform="translate(1340.4 600.5) scale(1 1.04)" text-anchor="middle" font-size="31.3">2010s</text>
<rect x="147.65" y="1157.89" width="63.7" height="25.31" fill="#d4d4d4" stroke="none"/>
<clipPath id="c16"><rect x="147.65" y="1157.89" width="63.7" height="25.31"/></clipPath>
<g clip-path="url(#c16)" stroke="#000">
<line x1="144.65" y1="1180.2" x2="150.65" y2="1186.2" stroke="#000" stroke-width="2.5" stroke-linecap="butt"/>
<line x1="144.65" y1="1169.65" x2="161.2" y2="1186.2" stroke="#000" stroke-width="2.5" stroke-linecap="butt"/>
<line x1="144.65" y1="1159.1" x2="171.75" y2="1186.2" stroke="#000" stroke-width="2.5" stroke-linecap="butt"/>
<line x1="151" y1="1154.89" x2="182.3" y2="1186.2" stroke="#000" stroke-width="2.5" stroke-linecap="butt"/>
<line x1="161.55" y1="1154.89" x2="192.85" y2="1186.2" stroke="#000" stroke-width="2.5" stroke-linecap="butt"/>
<line x1="172.1" y1="1154.89" x2="203.4" y2="1186.2" stroke="#000" stroke-width="2.5" stroke-linecap="butt"/>
<line x1="182.64" y1="1154.89" x2="213.95" y2="1186.2" stroke="#000" stroke-width="2.5" stroke-linecap="butt"/>
<line x1="193.2" y1="1154.89" x2="214.35" y2="1176.05" stroke="#000" stroke-width="2.5" stroke-linecap="butt"/>
<line x1="203.75" y1="1154.89" x2="214.35" y2="1165.5" stroke="#000" stroke-width="2.5" stroke-linecap="butt"/>
</g>
<rect x="147.65" y="1157.89" width="63.7" height="25.31" fill="none" stroke="#000" stroke-width="2.6"/>
<rect x="436.85" y="1157.89" width="63.7" height="25.31" fill="#d4d4d4" stroke="none"/>
<line x1="449.59" y1="1157.89" x2="449.59" y2="1183.2" stroke="#000" stroke-width="2.38" stroke-linecap="butt"/>
<line x1="462.33" y1="1157.89" x2="462.33" y2="1183.2" stroke="#000" stroke-width="2.38" stroke-linecap="butt"/>
<line x1="475.07" y1="1157.89" x2="475.07" y2="1183.2" stroke="#000" stroke-width="2.38" stroke-linecap="butt"/>
<line x1="487.81" y1="1157.89" x2="487.81" y2="1183.2" stroke="#000" stroke-width="2.38" stroke-linecap="butt"/>
<rect x="436.85" y="1157.89" width="63.7" height="25.31" fill="none" stroke="#000" stroke-width="2.6"/>
<rect x="533.25" y="1157.89" width="63.7" height="25.31" fill="#fff" stroke="none"/>
<rect x="533.25" y="1157.89" width="63.7" height="25.31" fill="none" stroke="#000" stroke-width="2.6"/>
<rect x="629.65" y="1107.29" width="63.7" height="75.91" fill="#d4d4d4" stroke="none"/>
<line x1="642.39" y1="1107.29" x2="642.39" y2="1183.2" stroke="#000" stroke-width="2.38" stroke-linecap="butt"/>
<line x1="655.13" y1="1107.29" x2="655.13" y2="1183.2" stroke="#000" stroke-width="2.38" stroke-linecap="butt"/>
<line x1="667.87" y1="1107.29" x2="667.87" y2="1183.2" stroke="#000" stroke-width="2.38" stroke-linecap="butt"/>
<line x1="680.61" y1="1107.29" x2="680.61" y2="1183.2" stroke="#000" stroke-width="2.38" stroke-linecap="butt"/>
<rect x="629.65" y="1107.29" width="63.7" height="75.91" fill="none" stroke="#000" stroke-width="2.6"/>
<rect x="726.05" y="1157.89" width="63.7" height="25.31" fill="#fff" stroke="none"/>
<rect x="726.05" y="1157.89" width="63.7" height="25.31" fill="none" stroke="#000" stroke-width="2.6"/>
<rect x="822.45" y="1157.89" width="63.7" height="25.31" fill="#fff" stroke="none"/>
<rect x="822.45" y="1157.89" width="63.7" height="25.31" fill="none" stroke="#000" stroke-width="2.6"/>
<rect x="822.45" y="1132.59" width="63.7" height="25.3" fill="#d4d4d4" stroke="none"/>
<line x1="835.19" y1="1132.59" x2="835.19" y2="1157.89" stroke="#000" stroke-width="2.38" stroke-linecap="butt"/>
<line x1="847.93" y1="1132.59" x2="847.93" y2="1157.89" stroke="#000" stroke-width="2.38" stroke-linecap="butt"/>
<line x1="860.67" y1="1132.59" x2="860.67" y2="1157.89" stroke="#000" stroke-width="2.38" stroke-linecap="butt"/>
<line x1="873.41" y1="1132.59" x2="873.41" y2="1157.89" stroke="#000" stroke-width="2.38" stroke-linecap="butt"/>
<rect x="822.45" y="1132.59" width="63.7" height="25.3" fill="none" stroke="#000" stroke-width="2.6"/>
<rect x="822.45" y="1081.98" width="63.7" height="50.61" fill="#d4d4d4" stroke="none"/>
<clipPath id="c17"><rect x="822.45" y="1081.98" width="63.7" height="50.61"/></clipPath>
<g clip-path="url(#c17)" stroke="#000">
<line x1="819.45" y1="1084.98" x2="825.45" y2="1078.98" stroke="#000" stroke-width="2.5" stroke-linecap="butt"/>
<line x1="819.45" y1="1095.53" x2="836" y2="1078.98" stroke="#000" stroke-width="2.5" stroke-linecap="butt"/>
<line x1="819.45" y1="1106.08" x2="846.55" y2="1078.98" stroke="#000" stroke-width="2.5" stroke-linecap="butt"/>
<line x1="819.45" y1="1116.63" x2="857.1" y2="1078.98" stroke="#000" stroke-width="2.5" stroke-linecap="butt"/>
<line x1="819.45" y1="1127.18" x2="867.65" y2="1078.98" stroke="#000" stroke-width="2.5" stroke-linecap="butt"/>
<line x1="821.59" y1="1135.59" x2="878.2" y2="1078.98" stroke="#000" stroke-width="2.5" stroke-linecap="butt"/>
<line x1="832.14" y1="1135.59" x2="888.75" y2="1078.98" stroke="#000" stroke-width="2.5" stroke-linecap="butt"/>
<line x1="842.69" y1="1135.59" x2="889.15" y2="1089.13" stroke="#000" stroke-width="2.5" stroke-linecap="butt"/>
<line x1="853.24" y1="1135.59" x2="889.15" y2="1099.68" stroke="#000" stroke-width="2.5" stroke-linecap="butt"/>
<line x1="863.79" y1="1135.59" x2="889.15" y2="1110.23" stroke="#000" stroke-width="2.5" stroke-linecap="butt"/>
<line x1="874.34" y1="1135.59" x2="889.15" y2="1120.78" stroke="#000" stroke-width="2.5" stroke-linecap="butt"/>
<line x1="884.89" y1="1135.59" x2="889.15" y2="1131.33" stroke="#000" stroke-width="2.5" stroke-linecap="butt"/>
</g>
<rect x="822.45" y="1081.98" width="63.7" height="50.61" fill="none" stroke="#000" stroke-width="2.6"/>
<rect x="822.45" y="1031.37" width="63.7" height="50.61" fill="#000" stroke="#000" stroke-width="2.6"/>
<rect x="918.85" y="1157.89" width="63.7" height="25.31" fill="#fff" stroke="none"/>
<rect x="918.85" y="1157.89" width="63.7" height="25.31" fill="none" stroke="#000" stroke-width="2.6"/>
<rect x="918.85" y="1107.29" width="63.7" height="50.61" fill="#d4d4d4" stroke="none"/>
<clipPath id="c18"><rect x="918.85" y="1107.29" width="63.7" height="50.61"/></clipPath>
<g clip-path="url(#c18)" stroke="#000">
<line x1="915.85" y1="1154.89" x2="921.85" y2="1160.89" stroke="#000" stroke-width="2.5" stroke-linecap="butt"/>
<line x1="915.85" y1="1144.35" x2="932.4" y2="1160.89" stroke="#000" stroke-width="2.5" stroke-linecap="butt"/>
<line x1="915.85" y1="1133.8" x2="942.95" y2="1160.89" stroke="#000" stroke-width="2.5" stroke-linecap="butt"/>
<line x1="915.85" y1="1123.24" x2="953.5" y2="1160.89" stroke="#000" stroke-width="2.5" stroke-linecap="butt"/>
<line x1="915.85" y1="1112.69" x2="964.05" y2="1160.89" stroke="#000" stroke-width="2.5" stroke-linecap="butt"/>
<line x1="917.99" y1="1104.29" x2="974.6" y2="1160.89" stroke="#000" stroke-width="2.5" stroke-linecap="butt"/>
<line x1="928.54" y1="1104.29" x2="985.15" y2="1160.89" stroke="#000" stroke-width="2.5" stroke-linecap="butt"/>
<line x1="939.09" y1="1104.29" x2="985.55" y2="1150.74" stroke="#000" stroke-width="2.5" stroke-linecap="butt"/>
<line x1="949.64" y1="1104.29" x2="985.55" y2="1140.19" stroke="#000" stroke-width="2.5" stroke-linecap="butt"/>
<line x1="960.19" y1="1104.29" x2="985.55" y2="1129.64" stroke="#000" stroke-width="2.5" stroke-linecap="butt"/>
<line x1="970.74" y1="1104.29" x2="985.55" y2="1119.1" stroke="#000" stroke-width="2.5" stroke-linecap="butt"/>
<line x1="981.29" y1="1104.29" x2="985.55" y2="1108.55" stroke="#000" stroke-width="2.5" stroke-linecap="butt"/>
</g>
<rect x="918.85" y="1107.29" width="63.7" height="50.61" fill="none" stroke="#000" stroke-width="2.6"/>
<rect x="918.85" y="879.54" width="63.7" height="227.75" fill="#d4d4d4" stroke="none"/>
<line x1="931.59" y1="879.54" x2="931.59" y2="1107.29" stroke="#000" stroke-width="2.38" stroke-linecap="butt"/>
<line x1="944.33" y1="879.54" x2="944.33" y2="1107.29" stroke="#000" stroke-width="2.38" stroke-linecap="butt"/>
<line x1="957.07" y1="879.54" x2="957.07" y2="1107.29" stroke="#000" stroke-width="2.38" stroke-linecap="butt"/>
<line x1="969.81" y1="879.54" x2="969.81" y2="1107.29" stroke="#000" stroke-width="2.38" stroke-linecap="butt"/>
<rect x="918.85" y="879.54" width="63.7" height="227.75" fill="none" stroke="#000" stroke-width="2.6"/>
<rect x="918.85" y="828.93" width="63.7" height="50.61" fill="#d4d4d4" stroke="none"/>
<clipPath id="c19"><rect x="918.85" y="828.93" width="63.7" height="50.61"/></clipPath>
<g clip-path="url(#c19)" stroke="#000">
<line x1="915.85" y1="831.93" x2="921.85" y2="825.93" stroke="#000" stroke-width="2.5" stroke-linecap="butt"/>
<line x1="915.85" y1="842.48" x2="932.4" y2="825.93" stroke="#000" stroke-width="2.5" stroke-linecap="butt"/>
<line x1="915.85" y1="853.03" x2="942.95" y2="825.93" stroke="#000" stroke-width="2.5" stroke-linecap="butt"/>
<line x1="915.85" y1="863.58" x2="953.5" y2="825.93" stroke="#000" stroke-width="2.5" stroke-linecap="butt"/>
<line x1="915.85" y1="874.13" x2="964.05" y2="825.93" stroke="#000" stroke-width="2.5" stroke-linecap="butt"/>
<line x1="917.99" y1="882.54" x2="974.6" y2="825.93" stroke="#000" stroke-width="2.5" stroke-linecap="butt"/>
<line x1="928.54" y1="882.54" x2="985.15" y2="825.93" stroke="#000" stroke-width="2.5" stroke-linecap="butt"/>
<line x1="939.09" y1="882.54" x2="985.55" y2="836.08" stroke="#000" stroke-width="2.5" stroke-linecap="butt"/>
<line x1="949.64" y1="882.54" x2="985.55" y2="846.63" stroke="#000" stroke-width="2.5" stroke-linecap="butt"/>
<line x1="960.19" y1="882.54" x2="985.55" y2="857.18" stroke="#000" stroke-width="2.5" stroke-linecap="butt"/>
<line x1="970.74" y1="882.54" x2="985.55" y2="867.73" stroke="#000" stroke-width="2.5" stroke-linecap="butt"/>
<line x1="981.29" y1="882.54" x2="985.55" y2="878.28" stroke="#000" stroke-width="2.5" stroke-linecap="butt"/>
</g>
<rect x="918.85" y="828.93" width="63.7" height="50.61" fill="none" stroke="#000" stroke-width="2.6"/>
<rect x="918.85" y="778.32" width="63.7" height="50.61" fill="#d4d4d4" stroke="none"/>
<line x1="918.85" y1="788.77" x2="982.55" y2="788.77" stroke="#000" stroke-width="2.38" stroke-linecap="butt"/>
<line x1="918.85" y1="799.22" x2="982.55" y2="799.22" stroke="#000" stroke-width="2.38" stroke-linecap="butt"/>
<line x1="918.85" y1="809.67" x2="982.55" y2="809.67" stroke="#000" stroke-width="2.38" stroke-linecap="butt"/>
<line x1="918.85" y1="820.12" x2="982.55" y2="820.12" stroke="#000" stroke-width="2.38" stroke-linecap="butt"/>
<rect x="918.85" y="778.32" width="63.7" height="50.61" fill="none" stroke="#000" stroke-width="2.6"/>
<rect x="918.85" y="753.02" width="63.7" height="25.3" fill="#000" stroke="#000" stroke-width="2.6"/>
<rect x="1015.25" y="1132.59" width="63.7" height="50.61" fill="#fff" stroke="none"/>
<rect x="1015.25" y="1132.59" width="63.7" height="50.61" fill="none" stroke="#000" stroke-width="2.6"/>
<rect x="1015.25" y="1031.37" width="63.7" height="101.22" fill="#d4d4d4" stroke="none"/>
<clipPath id="c20"><rect x="1015.25" y="1031.37" width="63.7" height="101.22"/></clipPath>
<g clip-path="url(#c20)" stroke="#000">
<line x1="1012.25" y1="1129.59" x2="1018.25" y2="1135.59" stroke="#000" stroke-width="2.5" stroke-linecap="butt"/>
<line x1="1012.25" y1="1119.04" x2="1028.8" y2="1135.59" stroke="#000" stroke-width="2.5" stroke-linecap="butt"/>
<line x1="1012.25" y1="1108.49" x2="1039.35" y2="1135.59" stroke="#000" stroke-width="2.5" stroke-linecap="butt"/>
<line x1="1012.25" y1="1097.94" x2="1049.9" y2="1135.59" stroke="#000" stroke-width="2.5" stroke-linecap="butt"/>
<line x1="1012.25" y1="1087.39" x2="1060.45" y2="1135.59" stroke="#000" stroke-width="2.5" stroke-linecap="butt"/>
<line x1="1012.25" y1="1076.84" x2="1071" y2="1135.59" stroke="#000" stroke-width="2.5" stroke-linecap="butt"/>
<line x1="1012.25" y1="1066.29" x2="1081.55" y2="1135.59" stroke="#000" stroke-width="2.5" stroke-linecap="butt"/>
<line x1="1012.25" y1="1055.74" x2="1081.95" y2="1125.44" stroke="#000" stroke-width="2.5" stroke-linecap="butt"/>
<line x1="1012.25" y1="1045.19" x2="1081.95" y2="1114.89" stroke="#000" stroke-width="2.5" stroke-linecap="butt"/>
<line x1="1012.25" y1="1034.64" x2="1081.95" y2="1104.34" stroke="#000" stroke-width="2.5" stroke-linecap="butt"/>
<line x1="1016.53" y1="1028.37" x2="1081.95" y2="1093.79" stroke="#000" stroke-width="2.5" stroke-linecap="butt"/>
<line x1="1027.08" y1="1028.37" x2="1081.95" y2="1083.24" stroke="#000" stroke-width="2.5" stroke-linecap="butt"/>
<line x1="1037.63" y1="1028.37" x2="1081.95" y2="1072.69" stroke="#000" stroke-width="2.5" stroke-linecap="butt"/>
<line x1="1048.18" y1="1028.37" x2="1081.95" y2="1062.14" stroke="#000" stroke-width="2.5" stroke-linecap="butt"/>
<line x1="1058.73" y1="1028.37" x2="1081.95" y2="1051.59" stroke="#000" stroke-width="2.5" stroke-linecap="butt"/>
<line x1="1069.28" y1="1028.37" x2="1081.95" y2="1041.04" stroke="#000" stroke-width="2.5" stroke-linecap="butt"/>
<line x1="1079.83" y1="1028.37" x2="1081.95" y2="1030.49" stroke="#000" stroke-width="2.5" stroke-linecap="butt"/>
</g>
<rect x="1015.25" y="1031.37" width="63.7" height="101.22" fill="none" stroke="#000" stroke-width="2.6"/>
<rect x="1015.25" y="1006.07" width="63.7" height="25.31" fill="#000" stroke="#000" stroke-width="2.6"/>
<rect x="1111.65" y="1157.89" width="63.7" height="25.31" fill="#fff" stroke="none"/>
<rect x="1111.65" y="1157.89" width="63.7" height="25.31" fill="none" stroke="#000" stroke-width="2.6"/>
<rect x="1111.65" y="1006.07" width="63.7" height="151.83" fill="#d4d4d4" stroke="none"/>
<clipPath id="c21"><rect x="1111.65" y="1006.07" width="63.7" height="151.83"/></clipPath>
<g clip-path="url(#c21)" stroke="#000">
<line x1="1108.65" y1="1154.89" x2="1114.65" y2="1160.89" stroke="#000" stroke-width="2.5" stroke-linecap="butt"/>
<line x1="1108.65" y1="1144.35" x2="1125.2" y2="1160.89" stroke="#000" stroke-width="2.5" stroke-linecap="butt"/>
<line x1="1108.65" y1="1133.8" x2="1135.75" y2="1160.89" stroke="#000" stroke-width="2.5" stroke-linecap="butt"/>
<line x1="1108.65" y1="1123.24" x2="1146.3" y2="1160.89" stroke="#000" stroke-width="2.5" stroke-linecap="butt"/>
<line x1="1108.65" y1="1112.69" x2="1156.85" y2="1160.89" stroke="#000" stroke-width="2.5" stroke-linecap="butt"/>
<line x1="1108.65" y1="1102.14" x2="1167.4" y2="1160.89" stroke="#000" stroke-width="2.5" stroke-linecap="butt"/>
<line x1="1108.65" y1="1091.6" x2="1177.95" y2="1160.89" stroke="#000" stroke-width="2.5" stroke-linecap="butt"/>
<line x1="1108.65" y1="1081.05" x2="1178.35" y2="1150.74" stroke="#000" stroke-width="2.5" stroke-linecap="butt"/>
<line x1="1108.65" y1="1070.49" x2="1178.35" y2="1140.19" stroke="#000" stroke-width="2.5" stroke-linecap="butt"/>
<line x1="1108.65" y1="1059.94" x2="1178.35" y2="1129.64" stroke="#000" stroke-width="2.5" stroke-linecap="butt"/>
<line x1="1108.65" y1="1049.39" x2="1178.35" y2="1119.09" stroke="#000" stroke-width="2.5" stroke-linecap="butt"/>
<line x1="1108.65" y1="1038.85" x2="1178.35" y2="1108.54" stroke="#000" stroke-width="2.5" stroke-linecap="butt"/>
<line x1="1108.65" y1="1028.3" x2="1178.35" y2="1097.99" stroke="#000" stroke-width="2.5" stroke-linecap="butt"/>
<line x1="1108.65" y1="1017.75" x2="1178.35" y2="1087.44" stroke="#000" stroke-width="2.5" stroke-linecap="butt"/>
<line x1="1108.65" y1="1007.19" x2="1178.35" y2="1076.89" stroke="#000" stroke-width="2.5" stroke-linecap="butt"/>
<line x1="1115.07" y1="1003.07" x2="1178.35" y2="1066.34" stroke="#000" stroke-width="2.5" stroke-linecap="butt"/>
<line x1="1125.62" y1="1003.07" x2="1178.35" y2="1055.79" stroke="#000" stroke-width="2.5" stroke-linecap="butt"/>
<line x1="1136.17" y1="1003.06" x2="1178.35" y2="1045.24" stroke="#000" stroke-width="2.5" stroke-linecap="butt"/>
<line x1="1146.72" y1="1003.07" x2="1178.35" y2="1034.69" stroke="#000" stroke-width="2.5" stroke-linecap="butt"/>
<line x1="1157.27" y1="1003.07" x2="1178.35" y2="1024.14" stroke="#000" stroke-width="2.5" stroke-linecap="butt"/>
<line x1="1167.82" y1="1003.07" x2="1178.35" y2="1013.59" stroke="#000" stroke-width="2.5" stroke-linecap="butt"/>
</g>
<rect x="1111.65" y="1006.07" width="63.7" height="151.83" fill="none" stroke="#000" stroke-width="2.6"/>
<rect x="1111.65" y="980.76" width="63.7" height="25.31" fill="#d4d4d4" stroke="none"/>
<line x1="1124.39" y1="980.76" x2="1124.39" y2="1006.07" stroke="#000" stroke-width="2.38" stroke-linecap="butt"/>
<line x1="1137.13" y1="980.76" x2="1137.13" y2="1006.07" stroke="#000" stroke-width="2.38" stroke-linecap="butt"/>
<line x1="1149.87" y1="980.76" x2="1149.87" y2="1006.07" stroke="#000" stroke-width="2.38" stroke-linecap="butt"/>
<line x1="1162.61" y1="980.76" x2="1162.61" y2="1006.07" stroke="#000" stroke-width="2.38" stroke-linecap="butt"/>
<rect x="1111.65" y="980.76" width="63.7" height="25.31" fill="none" stroke="#000" stroke-width="2.6"/>
<rect x="1111.65" y="955.46" width="63.7" height="25.3" fill="#d4d4d4" stroke="none"/>
<line x1="1111.65" y1="965.91" x2="1175.35" y2="965.91" stroke="#000" stroke-width="2.38" stroke-linecap="butt"/>
<line x1="1111.65" y1="976.36" x2="1175.35" y2="976.36" stroke="#000" stroke-width="2.38" stroke-linecap="butt"/>
<rect x="1111.65" y="955.46" width="63.7" height="25.3" fill="none" stroke="#000" stroke-width="2.6"/>
<rect x="1208.05" y="1157.89" width="63.7" height="25.31" fill="#d4d4d4" stroke="none"/>
<clipPath id="c22"><rect x="1208.05" y="1157.89" width="63.7" height="25.31"/></clipPath>
<g clip-path="url(#c22)" stroke="#000">
<line x1="1205.05" y1="1180.2" x2="1211.05" y2="1186.2" stroke="#000" stroke-width="2.5" stroke-linecap="butt"/>
<line x1="1205.05" y1="1169.65" x2="1221.6" y2="1186.2" stroke="#000" stroke-width="2.5" stroke-linecap="butt"/>
<line x1="1205.05" y1="1159.1" x2="1232.15" y2="1186.2" stroke="#000" stroke-width="2.5" stroke-linecap="butt"/>
<line x1="1211.4" y1="1154.89" x2="1242.7" y2="1186.2" stroke="#000" stroke-width="2.5" stroke-linecap="butt"/>
<line x1="1221.95" y1="1154.89" x2="1253.25" y2="1186.2" stroke="#000" stroke-width="2.5" stroke-linecap="butt"/>
<line x1="1232.5" y1="1154.89" x2="1263.8" y2="1186.2" stroke="#000" stroke-width="2.5" stroke-linecap="butt"/>
<line x1="1243.05" y1="1154.89" x2="1274.35" y2="1186.2" stroke="#000" stroke-width="2.5" stroke-linecap="butt"/>
<line x1="1253.6" y1="1154.89" x2="1274.75" y2="1176.05" stroke="#000" stroke-width="2.5" stroke-linecap="butt"/>
<line x1="1264.15" y1="1154.89" x2="1274.75" y2="1165.5" stroke="#000" stroke-width="2.5" stroke-linecap="butt"/>
</g>
<rect x="1208.05" y="1157.89" width="63.7" height="25.31" fill="none" stroke="#000" stroke-width="2.6"/>
<rect x="1208.05" y="1132.59" width="63.7" height="25.3" fill="#d4d4d4" stroke="none"/>
<line x1="1220.79" y1="1132.59" x2="1220.79" y2="1157.89" stroke="#000" stroke-width="2.38" stroke-linecap="butt"/>
<line x1="1233.53" y1="1132.59" x2="1233.53" y2="1157.89" stroke="#000" stroke-width="2.38" stroke-linecap="butt"/>
<line x1="1246.27" y1="1132.59" x2="1246.27" y2="1157.89" stroke="#000" stroke-width="2.38" stroke-linecap="butt"/>
<line x1="1259.01" y1="1132.59" x2="1259.01" y2="1157.89" stroke="#000" stroke-width="2.38" stroke-linecap="butt"/>
<rect x="1208.05" y="1132.59" width="63.7" height="25.3" fill="none" stroke="#000" stroke-width="2.6"/>
<rect x="1304.45" y="1157.89" width="63.7" height="25.31" fill="#000" stroke="#000" stroke-width="2.6"/>
<g stroke="#000">
<line x1="131.3" y1="675.7" x2="131.3" y2="1184.6" stroke="#000" stroke-width="2.8" stroke-linecap="butt"/>
<line x1="115.2" y1="1183.2" x2="1394" y2="1183.2" stroke="#000" stroke-width="2.8" stroke-linecap="butt"/>
<line x1="115.2" y1="1183.2" x2="132.7" y2="1183.2" stroke="#000" stroke-width="2.8" stroke-linecap="butt"/>
<line x1="115.2" y1="1081.98" x2="132.7" y2="1081.98" stroke="#000" stroke-width="2.8" stroke-linecap="butt"/>
<line x1="115.2" y1="980.76" x2="132.7" y2="980.76" stroke="#000" stroke-width="2.8" stroke-linecap="butt"/>
<line x1="115.2" y1="879.54" x2="132.7" y2="879.54" stroke="#000" stroke-width="2.8" stroke-linecap="butt"/>
<line x1="115.2" y1="778.32" x2="132.7" y2="778.32" stroke="#000" stroke-width="2.8" stroke-linecap="butt"/>
<line x1="115.2" y1="677.1" x2="132.7" y2="677.1" stroke="#000" stroke-width="2.8" stroke-linecap="butt"/>
<line x1="179.5" y1="1183.2" x2="179.5" y2="1198.4" stroke="#000" stroke-width="2.8" stroke-linecap="butt"/>
<line x1="275.9" y1="1183.2" x2="275.9" y2="1198.4" stroke="#000" stroke-width="2.8" stroke-linecap="butt"/>
<line x1="372.3" y1="1183.2" x2="372.3" y2="1198.4" stroke="#000" stroke-width="2.8" stroke-linecap="butt"/>
<line x1="468.7" y1="1183.2" x2="468.7" y2="1198.4" stroke="#000" stroke-width="2.8" stroke-linecap="butt"/>
<line x1="565.1" y1="1183.2" x2="565.1" y2="1198.4" stroke="#000" stroke-width="2.8" stroke-linecap="butt"/>
<line x1="661.5" y1="1183.2" x2="661.5" y2="1198.4" stroke="#000" stroke-width="2.8" stroke-linecap="butt"/>
<line x1="757.9" y1="1183.2" x2="757.9" y2="1198.4" stroke="#000" stroke-width="2.8" stroke-linecap="butt"/>
<line x1="854.3" y1="1183.2" x2="854.3" y2="1198.4" stroke="#000" stroke-width="2.8" stroke-linecap="butt"/>
<line x1="950.7" y1="1183.2" x2="950.7" y2="1198.4" stroke="#000" stroke-width="2.8" stroke-linecap="butt"/>
<line x1="1047.1" y1="1183.2" x2="1047.1" y2="1198.4" stroke="#000" stroke-width="2.8" stroke-linecap="butt"/>
<line x1="1143.5" y1="1183.2" x2="1143.5" y2="1198.4" stroke="#000" stroke-width="2.8" stroke-linecap="butt"/>
<line x1="1239.9" y1="1183.2" x2="1239.9" y2="1198.4" stroke="#000" stroke-width="2.8" stroke-linecap="butt"/>
<line x1="1336.3" y1="1183.2" x2="1336.3" y2="1198.4" stroke="#000" stroke-width="2.8" stroke-linecap="butt"/>
</g>
<text transform="translate(103.5 1192.8) scale(1 1.04)" text-anchor="end" font-size="31.3">0</text>
<text transform="translate(103.5 1091.58) scale(1 1.04)" text-anchor="end" font-size="31.3">4</text>
<text transform="translate(103.5 990.36) scale(1 1.04)" text-anchor="end" font-size="31.3">8</text>
<text transform="translate(103.5 889.14) scale(1 1.04)" text-anchor="end" font-size="31.3">12</text>
<text transform="translate(103.5 787.92) scale(1 1.04)" text-anchor="end" font-size="31.3">16</text>
<text transform="translate(103.5 686.7) scale(1 1.04)" text-anchor="end" font-size="31.3">20</text>
<text transform="translate(187.2 1226.5) scale(1 1.04)" text-anchor="middle" font-size="31.3">-1900</text>
<text transform="translate(287.9 1226.5) scale(1 1.04)" text-anchor="middle" font-size="31.3">1900s</text>
<text transform="translate(384.3 1226.5) scale(1 1.04)" text-anchor="middle" font-size="31.3">1910s</text>
<text transform="translate(480.7 1226.5) scale(1 1.04)" text-anchor="middle" font-size="31.3">1920s</text>
<text transform="translate(577.1 1226.5) scale(1 1.04)" text-anchor="middle" font-size="31.3">1930s</text>
<text transform="translate(673.5 1226.5) scale(1 1.04)" text-anchor="middle" font-size="31.3">1940s</text>
<text transform="translate(769.9 1226.5) scale(1 1.04)" text-anchor="middle" font-size="31.3">1950s</text>
<text transform="translate(866.3 1226.5) scale(1 1.04)" text-anchor="middle" font-size="31.3">1960s</text>
<text transform="translate(962.7 1226.5) scale(1 1.04)" text-anchor="middle" font-size="31.3">1970s</text>
<text transform="translate(1059.1 1226.5) scale(1 1.04)" text-anchor="middle" font-size="31.3">1980s</text>
<text transform="translate(1155.5 1226.5) scale(1 1.04)" text-anchor="middle" font-size="31.3">1990s</text>
<text transform="translate(1251.9 1226.5) scale(1 1.04)" text-anchor="middle" font-size="31.3">2000s</text>
<text transform="translate(1348.3 1226.5) scale(1 1.04)" text-anchor="middle" font-size="31.3">2010s</text>
<rect x="169.8" y="66.7" width="54.2" height="20.6" fill="#fff" stroke="none"/>
<rect x="169.8" y="66.7" width="54.2" height="20.6" fill="none" stroke="#000" stroke-width="2.6"/>
<text x="238.8" y="88" font-size="31.3">Australia</text>
<rect x="169.8" y="125" width="54.2" height="20.6" fill="#d4d4d4" stroke="none"/>
<clipPath id="c23"><rect x="169.8" y="125" width="54.2" height="20.6"/></clipPath>
<g clip-path="url(#c23)" stroke="#000">
<line x1="166.8" y1="142.6" x2="172.8" y2="148.6" stroke="#000" stroke-width="2.5" stroke-linecap="butt"/>
<line x1="166.8" y1="132.05" x2="183.35" y2="148.6" stroke="#000" stroke-width="2.5" stroke-linecap="butt"/>
<line x1="167.3" y1="122" x2="193.9" y2="148.6" stroke="#000" stroke-width="2.5" stroke-linecap="butt"/>
<line x1="177.85" y1="122" x2="204.45" y2="148.6" stroke="#000" stroke-width="2.5" stroke-linecap="butt"/>
<line x1="188.4" y1="122" x2="215" y2="148.6" stroke="#000" stroke-width="2.5" stroke-linecap="butt"/>
<line x1="198.95" y1="122" x2="225.55" y2="148.6" stroke="#000" stroke-width="2.5" stroke-linecap="butt"/>
<line x1="209.5" y1="122" x2="227" y2="139.5" stroke="#000" stroke-width="2.5" stroke-linecap="butt"/>
<line x1="220.05" y1="122" x2="227" y2="128.95" stroke="#000" stroke-width="2.5" stroke-linecap="butt"/>
</g>
<rect x="169.8" y="125" width="54.2" height="20.6" fill="none" stroke="#000" stroke-width="2.6"/>
<text x="238.8" y="146.3" font-size="31.3">North America</text>
<rect x="169.8" y="183.3" width="54.2" height="20.6" fill="#d4d4d4" stroke="none"/>
<line x1="183.35" y1="183.3" x2="183.35" y2="203.9" stroke="#000" stroke-width="2.38" stroke-linecap="butt"/>
<line x1="196.9" y1="183.3" x2="196.9" y2="203.9" stroke="#000" stroke-width="2.38" stroke-linecap="butt"/>
<line x1="210.45" y1="183.3" x2="210.45" y2="203.9" stroke="#000" stroke-width="2.38" stroke-linecap="butt"/>
<rect x="169.8" y="183.3" width="54.2" height="20.6" fill="none" stroke="#000" stroke-width="2.6"/>
<text x="238.8" y="204.6" font-size="31.3">South Africa</text>
<rect x="169.8" y="241.6" width="54.2" height="20.6" fill="#d4d4d4" stroke="none"/>
<clipPath id="c24"><rect x="169.8" y="241.6" width="54.2" height="20.6"/></clipPath>
<g clip-path="url(#c24)" stroke="#000">
<line x1="166.8" y1="244.6" x2="172.8" y2="238.6" stroke="#000" stroke-width="2.5" stroke-linecap="butt"/>
<line x1="166.8" y1="255.15" x2="183.35" y2="238.6" stroke="#000" stroke-width="2.5" stroke-linecap="butt"/>
<line x1="167.3" y1="265.2" x2="193.9" y2="238.6" stroke="#000" stroke-width="2.5" stroke-linecap="butt"/>
<line x1="177.85" y1="265.2" x2="204.45" y2="238.6" stroke="#000" stroke-width="2.5" stroke-linecap="butt"/>
<line x1="188.4" y1="265.2" x2="215" y2="238.6" stroke="#000" stroke-width="2.5" stroke-linecap="butt"/>
<line x1="198.95" y1="265.2" x2="225.55" y2="238.6" stroke="#000" stroke-width="2.5" stroke-linecap="butt"/>
<line x1="209.5" y1="265.2" x2="227" y2="247.7" stroke="#000" stroke-width="2.5" stroke-linecap="butt"/>
<line x1="220.05" y1="265.2" x2="227" y2="258.25" stroke="#000" stroke-width="2.5" stroke-linecap="butt"/>
</g>
<rect x="169.8" y="241.6" width="54.2" height="20.6" fill="none" stroke="#000" stroke-width="2.6"/>
<text x="238.8" y="262.9" font-size="31.3">Hawaii</text>
<rect x="169.8" y="299.9" width="54.2" height="20.6" fill="#000" stroke="#000" stroke-width="2.6"/>
<text x="238.8" y="321.2" font-size="31.3">New Zealand</text>
<rect x="174.5" y="686.8" width="54" height="20.5" fill="#fff" stroke="none"/>
<rect x="174.5" y="686.8" width="54" height="20.5" fill="none" stroke="#000" stroke-width="2.6"/>
<text x="246.4" y="708.2" font-size="31.3">Oceania</text>
<rect x="174.5" y="732.4" width="54" height="20.5" fill="#d4d4d4" stroke="none"/>
<clipPath id="c25"><rect x="174.5" y="732.4" width="54" height="20.5"/></clipPath>
<g clip-path="url(#c25)" stroke="#000">
<line x1="171.5" y1="749.9" x2="177.5" y2="755.9" stroke="#000" stroke-width="2.5" stroke-linecap="butt"/>
<line x1="171.5" y1="739.35" x2="188.05" y2="755.9" stroke="#000" stroke-width="2.5" stroke-linecap="butt"/>
<line x1="172.1" y1="729.4" x2="198.6" y2="755.9" stroke="#000" stroke-width="2.5" stroke-linecap="butt"/>
<line x1="182.65" y1="729.4" x2="209.15" y2="755.9" stroke="#000" stroke-width="2.5" stroke-linecap="butt"/>
<line x1="193.2" y1="729.4" x2="219.7" y2="755.9" stroke="#000" stroke-width="2.5" stroke-linecap="butt"/>
<line x1="203.75" y1="729.4" x2="230.25" y2="755.9" stroke="#000" stroke-width="2.5" stroke-linecap="butt"/>
<line x1="214.3" y1="729.4" x2="231.5" y2="746.6" stroke="#000" stroke-width="2.5" stroke-linecap="butt"/>
<line x1="224.85" y1="729.4" x2="231.5" y2="736.05" stroke="#000" stroke-width="2.5" stroke-linecap="butt"/>
</g>
<rect x="174.5" y="732.4" width="54" height="20.5" fill="none" stroke="#000" stroke-width="2.6"/>
<text x="246.4" y="753.8" font-size="31.3">Asia</text>
<rect x="174.5" y="778" width="54" height="20.5" fill="#d4d4d4" stroke="none"/>
<line x1="188" y1="778" x2="188" y2="798.5" stroke="#000" stroke-width="2.38" stroke-linecap="butt"/>
<line x1="201.5" y1="778" x2="201.5" y2="798.5" stroke="#000" stroke-width="2.38" stroke-linecap="butt"/>
<line x1="215" y1="778" x2="215" y2="798.5" stroke="#000" stroke-width="2.38" stroke-linecap="butt"/>
<rect x="174.5" y="778" width="54" height="20.5" fill="none" stroke="#000" stroke-width="2.6"/>
<text x="246.4" y="799.4" font-size="31.3">Africa</text>
<rect x="174.5" y="823.6" width="54" height="20.5" fill="#d4d4d4" stroke="none"/>
<clipPath id="c26"><rect x="174.5" y="823.6" width="54" height="20.5"/></clipPath>
<g clip-path="url(#c26)" stroke="#000">
<line x1="171.5" y1="826.6" x2="177.5" y2="820.6" stroke="#000" stroke-width="2.5" stroke-linecap="butt"/>
<line x1="171.5" y1="837.15" x2="188.05" y2="820.6" stroke="#000" stroke-width="2.5" stroke-linecap="butt"/>
<line x1="172.1" y1="847.1" x2="198.6" y2="820.6" stroke="#000" stroke-width="2.5" stroke-linecap="butt"/>
<line x1="182.65" y1="847.1" x2="209.15" y2="820.6" stroke="#000" stroke-width="2.5" stroke-linecap="butt"/>
<line x1="193.2" y1="847.1" x2="219.7" y2="820.6" stroke="#000" stroke-width="2.5" stroke-linecap="butt"/>
<line x1="203.75" y1="847.1" x2="230.25" y2="820.6" stroke="#000" stroke-width="2.5" stroke-linecap="butt"/>
<line x1="214.3" y1="847.1" x2="231.5" y2="829.9" stroke="#000" stroke-width="2.5" stroke-linecap="butt"/>
<line x1="224.85" y1="847.1" x2="231.5" y2="840.45" stroke="#000" stroke-width="2.5" stroke-linecap="butt"/>
</g>
<rect x="174.5" y="823.6" width="54" height="20.5" fill="none" stroke="#000" stroke-width="2.6"/>
<text x="246.4" y="845" font-size="31.3">Carribean</text>
<rect x="174.5" y="869.2" width="54" height="20.5" fill="#d4d4d4" stroke="none"/>
<line x1="174.5" y1="879.45" x2="228.5" y2="879.45" stroke="#000" stroke-width="2.38" stroke-linecap="butt"/>
<rect x="174.5" y="869.2" width="54" height="20.5" fill="none" stroke="#000" stroke-width="2.6"/>
<text x="246.4" y="890.6" font-size="31.3">South America</text>
<rect x="174.5" y="914.8" width="54" height="20.5" fill="#000" stroke="#000" stroke-width="2.6"/>
<text x="246.4" y="936.2" font-size="31.3">Eurasia</text>
<text x="140.3" y="35.7" font-size="41" font-weight="bold">a</text>
<text x="140.3" y="663.5" font-size="41" font-weight="bold">b</text>
<text transform="translate(37.8 913.1) rotate(-90)" font-size="35.7">No. new species released x decade<tspan font-size="27" dx="2.5" dy="-16">-1</tspan></text>
</svg>
</body></html>
